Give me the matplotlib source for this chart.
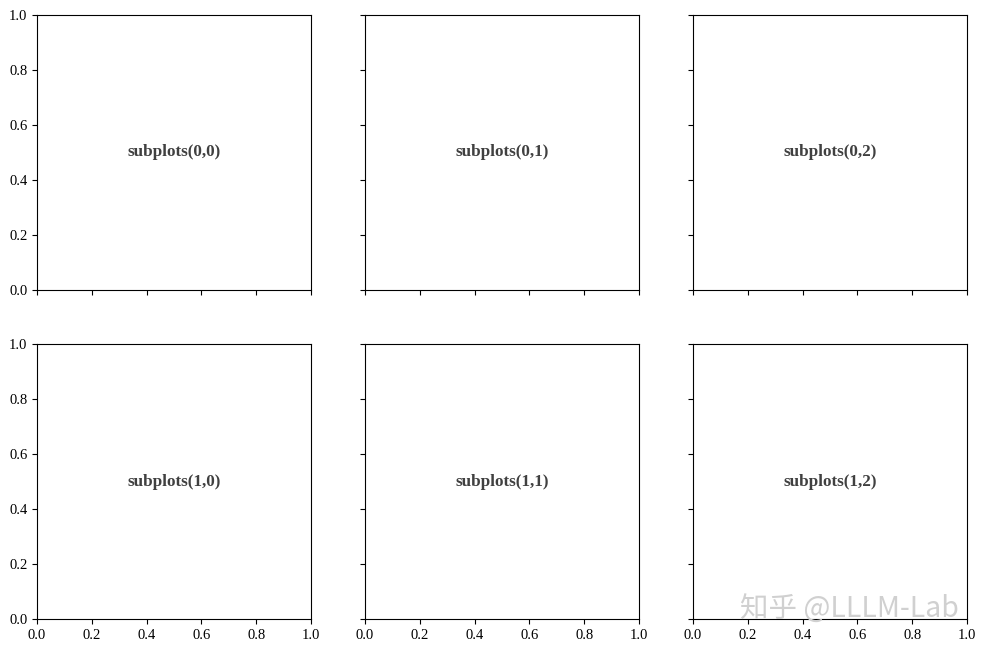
import matplotlib
matplotlib.use('Agg')
import matplotlib.pyplot as plt

rows = [0, 1]
cols = [0, 1, 2]
labels = [['subplots(%d,%d)' % (i, j) for j in cols] for i in rows]

plt.rcParams['font.family'] = ['Liberation Serif', 'DejaVu Serif']
plt.rcParams['font.size'] = 10.5

fig, axs = plt.subplots(len(rows), len(cols), sharex=True, sharey=True, figsize=(9.85, 6.53), dpi=100)
for i in rows:
    for j in cols:
        axs[i, j].text(0.5, 0.5, labels[i][j], ha='center', va='center',
                       fontsize=12.3, fontweight='bold', color='#404040',
                       transform=axs[i, j].transAxes)

plt.subplots_adjust(left=0.0376, right=0.9817, top=0.977, bottom=0.052, wspace=0.197, hspace=0.2)

# watermark
fig.text(0.862, 0.066, '知乎 @LLLM-Lab', ha='center', va='center', fontsize=20.5,
         color='#d0d0d0', family=['Noto Sans CJK SC', 'DejaVu Sans'])

fig.savefig('out.png', dpi=100)
